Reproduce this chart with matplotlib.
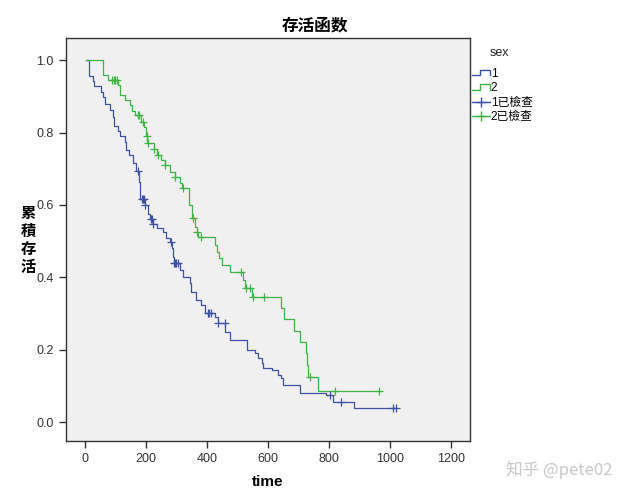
import numpy as np
import matplotlib
matplotlib.use("Agg")
import matplotlib.pyplot as plt
from matplotlib.lines import Line2D
from matplotlib.legend_handler import HandlerBase

plt.rcParams['font.family'] = ['Liberation Sans', 'Noto Sans CJK TC', 'DejaVu Sans']

# ---- data ----
male_time = [5, 12, 15, 26, 31, 53, 59, 65, 81, 92, 95, 107, 116, 131, 135, 144, 156,
             166, 176, 179, 181, 197, 207, 212, 222, 235, 256, 265, 279, 285, 290, 293,
             310, 321, 343, 348, 364, 380, 395, 426, 437, 459, 476, 530, 557, 567, 579,
             583, 612, 632, 644, 649, 705, 790, 813, 882, 1022]
male_surv = [1.0, 0.978, 0.957, 0.942, 0.928, 0.913, 0.899, 0.878, 0.863, 0.842, 0.819,
             0.805, 0.790, 0.775, 0.753, 0.739, 0.716, 0.694, 0.663, 0.640, 0.616, 0.600,
             0.576, 0.560, 0.548, 0.536, 0.525, 0.510, 0.497, 0.480, 0.455, 0.440, 0.420,
             0.400, 0.384, 0.360, 0.337, 0.323, 0.301, 0.291, 0.273, 0.249, 0.228, 0.200,
             0.190, 0.177, 0.163, 0.149, 0.144, 0.130, 0.122, 0.102, 0.080, 0.074, 0.056,
             0.038, 0.038]
male_censor = [175, 187, 190, 194, 197, 216, 219, 222, 282, 293, 296, 300, 304, 404, 408,
               413, 437, 458, 803, 838, 1009, 1020]

female_time = [5, 59, 75, 110, 115, 130, 148, 155, 165, 185, 195, 200, 205, 225, 236, 250,
               262, 280, 295, 310, 318, 340, 350, 360, 366, 370, 426, 433, 441, 448, 477,
               518, 525, 548, 641, 651, 686, 705, 725, 728, 731, 764, 965]
female_surv = [1.0, 0.958, 0.945, 0.930, 0.903, 0.890, 0.876, 0.860, 0.848, 0.830, 0.815,
               0.790, 0.770, 0.755, 0.737, 0.725, 0.710, 0.690, 0.677, 0.660, 0.646, 0.600,
               0.563, 0.540, 0.525, 0.512, 0.489, 0.470, 0.453, 0.434, 0.414, 0.392, 0.370,
               0.346, 0.315, 0.284, 0.252, 0.222, 0.190, 0.157, 0.125, 0.085, 0.085]
female_censor = [88, 95, 100, 104, 174, 178, 191, 203, 207, 228, 240, 262, 295, 320, 354,
                 366, 382, 510, 528, 541, 552, 587, 738, 820, 965]

x_ticks = [0, 200, 400, 600, 800, 1000, 1200]
y_ticks = [0.0, 0.2, 0.4, 0.6, 0.8, 1.0]

BLUE = '#3f51a3'
GREEN = '#3fb445'


def surv_at(times, survs, t):
    idx = np.searchsorted(np.asarray(times), t, side='right') - 1
    return np.asarray(survs)[idx]


fig = plt.figure(figsize=(6.29, 5.04), dpi=100)
ax = fig.add_axes([66 / 629, 63 / 504, 404 / 629, 403 / 504])
ax.set_facecolor('#f0f0f0')

ax.plot(male_time, male_surv, drawstyle='steps-post', color=BLUE, lw=0.9)
ax.plot(female_time, female_surv, drawstyle='steps-post', color=GREEN, lw=0.9)
ax.plot(male_censor, surv_at(male_time, male_surv, male_censor), ls='none',
        marker='+', ms=5.5, mew=0.9, color=BLUE)
ax.plot(female_censor, surv_at(female_time, female_surv, female_censor), ls='none',
        marker='+', ms=5.5, mew=0.9, color=GREEN)

ax.set_xlim(-62, 1262)
ax.set_ylim(-0.052, 1.061)
ax.set_xticks(x_ticks)
ax.set_yticks(y_ticks)
ax.set_yticklabels([f"{v:.1f}" for v in y_ticks])
ax.tick_params(direction='out', length=5, width=1, labelsize=9, colors='#333333', pad=4)
for s in ax.spines.values():
    s.set_color('#333333')
    s.set_linewidth(1.0)

ax.set_xlabel('time', fontsize=11, fontweight='bold', labelpad=7)

fig.text(0.5, 1 - 25 / 504, '存活函数', ha='center', va='center', fontsize=12,
         fontweight='bold', family=['Noto Sans CJK SC'])
fig.text(28 / 629, 1 - 240 / 504, '累\n積\n存\n活', ha='center', va='center',
         fontsize=11, fontweight='bold', linespacing=1.15, family=['Noto Sans CJK TC'])


class StepHandler(HandlerBase):
    def create_artists(self, legend, orig_handle, xdescent, ydescent, width, height,
                       fontsize, trans):
        w, h = width, height
        xs = [0, 0.45 * w, 0.45 * w, w, w]
        ys = [0.2 * h, 0.2 * h, 0.9 * h, 0.9 * h, 0.2 * h]
        ln = Line2D(np.array(xs) - xdescent, np.array(ys) - ydescent,
                    color=orig_handle.get_color(), lw=1.0, transform=trans)
        return [ln]


h1 = Line2D([], [], color=BLUE)
h2 = Line2D([], [], color=GREEN)
h3 = Line2D([], [], color=BLUE, marker='+', ms=7, lw=1.0)
h4 = Line2D([], [], color=GREEN, marker='+', ms=7, lw=1.0)
leg = fig.legend([h1, h2, h3, h4], ['1', '2', '1已檢查', '2已檢查'],
                 loc='upper left', bbox_to_anchor=(472 / 629, 1 - 68 / 504),
                 frameon=False, handlelength=1.5,
                 handletextpad=0.1, labelspacing=0.2, borderaxespad=0, borderpad=0,
                 handler_map={h1: StepHandler(), h2: StepHandler()},
                 prop={'family': ['Liberation Sans', 'Noto Sans CJK TC'], 'size': 8.5})
fig.text(490 / 629, 1 - 53 / 504, 'sex', ha='left', va='center', fontsize=9,
         color='#222222')

fig.text(612 / 629, 1 - 470 / 504, '知乎 @pete02', ha='right', va='center', fontsize=12,
         color='#c8c8c8', family=['Noto Sans CJK SC', 'DejaVu Sans'])

fig.savefig('out.png', dpi=100)
